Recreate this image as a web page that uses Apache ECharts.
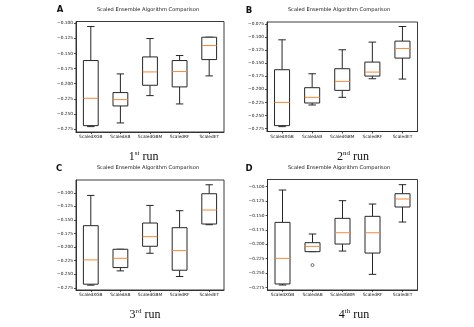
<!DOCTYPE html>
<html>
<head>
<meta charset="utf-8">
<script src="https://cdn.jsdelivr.net/npm/echarts@6/dist/echarts.min.js"></script>
<style>html,body{margin:0;padding:0;background:#fff}#c{width:474px;height:327px}</style>
</head>
<body>
<div id="c"></div>
<script>
// ---- data ----
const categories = ['ScaledXGB', 'ScaledAB', 'ScaledGBM', 'ScaledRF', 'ScaledET'];
// each item: [min, Q1, median, Q3, max]
const run1 = [
  [-0.2711, -0.2695, -0.2242, -0.1618, -0.1055],
  [-0.2650, -0.2369, -0.2264, -0.2148, -0.1839],
  [-0.2198, -0.2027, -0.1806, -0.1558, -0.1254],
  [-0.2336, -0.2054, -0.1800, -0.1618, -0.1535],
  [-0.1872, -0.1602, -0.1370, -0.1232, -0.1232]
];
const run2 = [
  [-0.2712, -0.2693, -0.2249, -0.1626, -0.1055],
  [-0.2299, -0.2261, -0.2153, -0.1969, -0.1703],
  [-0.2153, -0.2020, -0.1848, -0.1607, -0.1245],
  [-0.1798, -0.1747, -0.1671, -0.1480, -0.1099],
  [-0.1804, -0.1404, -0.1220, -0.1080, -0.0801]
];
const run3 = [
  [-0.2701, -0.2683, -0.2236, -0.1606, -0.1049],
  [-0.2438, -0.2377, -0.2206, -0.2040, -0.2040],
  [-0.2114, -0.1985, -0.1808, -0.1557, -0.1233],
  [-0.2542, -0.2426, -0.2065, -0.1643, -0.1330],
  [-0.1588, -0.1575, -0.1318, -0.1018, -0.0853]
];
const run4 = [
  [-0.2708, -0.2690, -0.2245, -0.1620, -0.1058],
  [-0.2129, -0.2129, -0.2037, -0.1973, -0.1822],
  [-0.2118, -0.1996, -0.1800, -0.1550, -0.1243],
  [-0.2523, -0.2153, -0.1800, -0.1515, -0.1301],
  [-0.1614, -0.1353, -0.1214, -0.1122, -0.0965]
];
// outliers: [categoryIndex, value]
const outliers4 = [[1, -0.2362]];

const ticks1 = [-0.275, -0.250, -0.225, -0.200, -0.175, -0.150, -0.125, -0.100];
const ticks2 = [-0.275, -0.250, -0.225, -0.200, -0.175, -0.150, -0.125, -0.100, -0.075];
const ticks3 = [-0.275, -0.250, -0.225, -0.200, -0.175, -0.150, -0.125, -0.100];
const ticks4 = [-0.275, -0.250, -0.225, -0.200, -0.175, -0.150, -0.125, -0.100];
const yRange1 = [-0.2800, -0.0972];
const yRange2 = [-0.2805, -0.0715];
const yRange3 = [-0.2790, -0.0765];
const yRange4 = [-0.2795, -0.0875];

const panelLetters = ['A', 'B', 'C', 'D'];
const panelTitle = 'Scaled Ensemble Algorithm Comparison';
const captions = [['1', 'st'], ['2', 'nd'], ['3', 'rd'], ['4', 'th']];

// ---- layout ----
const grids = [
  {left: 76, top: 21.5, width: 148, height: 110.5},
  {left: 267, top: 22, width: 150.5, height: 109.5},
  {left: 76, top: 180, width: 148, height: 110},
  {left: 267.5, top: 179.5, width: 150, height: 110.5}
];
const runs = [run1, run2, run3, run4];
const tickSets = [ticks1, ticks2, ticks3, ticks4];
const ranges = [yRange1, yRange2, yRange3, yRange4];

const INK = '#262626';
const MEDIAN = '#f5883a';
const fmt = v => (v < 0 ? '\u2212' : '') + Math.abs(v).toFixed(3);

function renderBox(params, api) {
  const x = api.value(0);
  const vals = [api.value(1), api.value(2), api.value(3), api.value(4), api.value(5)];
  const band = api.size([1, 0])[0];
  const hw = band * 0.25, cw = band * 0.125;
  const px = api.coord([x, vals[0]])[0];
  const y = vals.map(v => api.coord([x, v])[1]);
  const lw = 1;
  const line = (x1, y1, x2, y2, color) => ({
    type: 'line', shape: {x1, y1, x2, y2},
    style: {stroke: color || INK, lineWidth: lw}
  });
  return {
    type: 'group',
    children: [
      line(px, y[0], px, y[1]),
      line(px, y[3], px, y[4]),
      line(px - cw, y[0], px + cw, y[0]),
      line(px - cw, y[4], px + cw, y[4]),
      {type: 'rect', shape: {x: px - hw, y: y[3], width: hw * 2, height: y[1] - y[3]},
       style: {fill: '#fff', stroke: INK, lineWidth: lw}},
      line(px - hw, y[2], px + hw, y[2], MEDIAN)
    ]
  };
}

const xAxes = [], yAxes = [], series = [], graphics = [];
grids.forEach((g, i) => {
  xAxes.push({
    type: 'category', gridIndex: i, data: categories, boundaryGap: true,
    axisLine: {show: true, lineStyle: {color: INK, width: 0.9}},
    axisTick: {show: true, alignWithLabel: true, length: 2, lineStyle: {color: INK, width: 0.8}},
    axisLabel: {fontSize: 4.3, color: '#111', margin: 3, fontFamily: 'DejaVu Sans', interval: 0},
    splitLine: {show: false}
  });
  yAxes.push({
    type: 'value', gridIndex: i, min: ranges[i][0], max: ranges[i][1],
    axisLine: {show: true, lineStyle: {color: INK, width: 0.9}},
    axisTick: {show: true, length: 2, customValues: tickSets[i], lineStyle: {color: INK, width: 0.8}},
    axisLabel: {fontSize: 4.3, color: '#111', margin: 3, fontFamily: 'DejaVu Sans',
                customValues: tickSets[i], formatter: fmt},
    splitLine: {show: false}
  });
  series.push({
    type: 'custom', xAxisIndex: i, yAxisIndex: i,
    renderItem: renderBox,
    encode: {x: 0, y: [1, 2, 3, 4, 5]},
    data: runs[i].map((d, k) => [k].concat(d)),
    z: 3
  });
});
series.push({
  type: 'scatter', xAxisIndex: 3, yAxisIndex: 3, data: outliers4,
  symbol: 'circle', symbolSize: 3,
  itemStyle: {color: '#fff', borderColor: INK, borderWidth: 0.8}, z: 4
});

const titlePos = [[148, 9.5], [339, 9.5], [148, 167.5], [339, 167.5]];
const letterPos = [[60, 10], [249, 10.5], [59, 168.5], [249, 168.5]];
const captionPos = [[143.6, 156], [353, 156], [145, 314], [354, 314]];
for (let i = 0; i < 4; i++) {
  graphics.push({
    type: 'text', x: titlePos[i][0], y: titlePos[i][1],
    style: {text: panelTitle, fontSize: 5.1, fontFamily: 'DejaVu Sans', fill: '#111',
            align: 'center', verticalAlign: 'middle'}
  });
  graphics.push({
    type: 'text', x: letterPos[i][0], y: letterPos[i][1],
    style: {text: panelLetters[i], fontSize: 8.5, fontWeight: 'bold', fontFamily: 'DejaVu Sans',
            fill: '#111', align: 'center', verticalAlign: 'middle'}
  });
  graphics.push({
    type: 'text', x: captionPos[i][0], y: captionPos[i][1],
    style: {
      text: '{n|' + captions[i][0] + '}{s|' + captions[i][1] + '}{n| run}',
      align: 'center', verticalAlign: 'middle',
      rich: {
        n: {fontSize: 12, fontFamily: 'Liberation Serif', fill: '#111', lineHeight: 14, verticalAlign: 'bottom'},
        s: {fontSize: 7, fontFamily: 'Liberation Serif', fill: '#111', lineHeight: 14, verticalAlign: 'top', padding: [1, 0, 0, 0]}
      }
    }
  });
}

const chart = echarts.init(document.getElementById('c'), null, {renderer: 'canvas'});
chart.setOption({
  backgroundColor: '#fff',
  animation: false,
  grid: grids.map(g => Object.assign({
    show: true, borderColor: INK, borderWidth: 0.9, backgroundColor: 'transparent',
    containLabel: false, outerBoundsMode: 'none'
  }, g)),
  xAxis: xAxes,
  yAxis: yAxes,
  series: series,
  graphic: graphics
});
</script>
</body>
</html>
